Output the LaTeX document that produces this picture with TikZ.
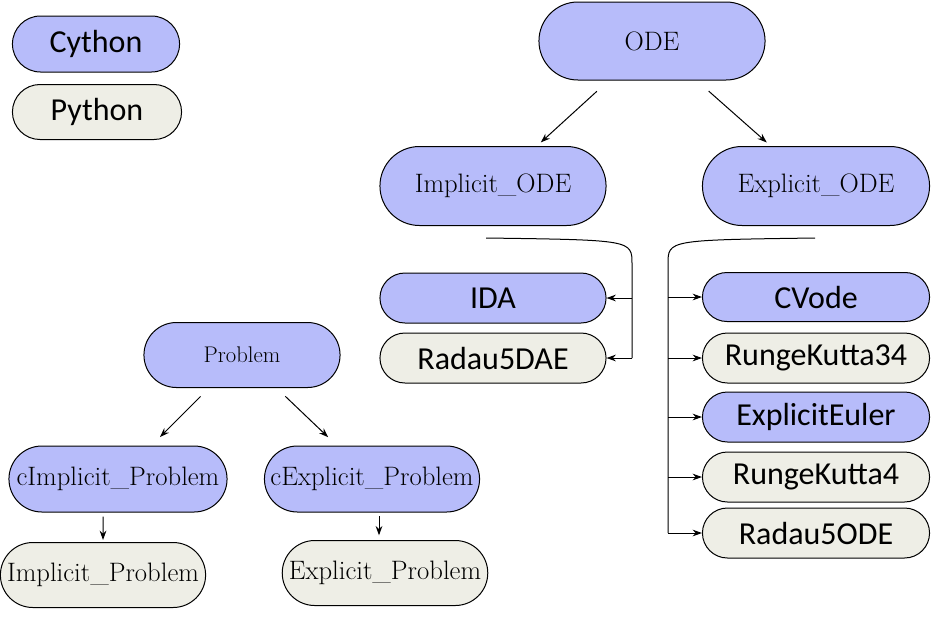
\documentclass[tikz,border=0pt]{standalone}
\usepackage{fontspec}
\newfontfamily\sansfam{Carlito}
\usetikzlibrary{shapes.misc,arrows.meta}
\definecolor{cyblue}{RGB}{183,188,250}
\definecolor{pygray}{RGB}{238,238,230}
\tikzset{every picture/.style={line width=0.75pt}}
\tikzset{
  box/.style={rounded rectangle,draw,minimum height=#1},
  cy/.style={fill=cyblue},
  py/.style={fill=pygray},
  ser/.style={font=\fontsize{20}{22}\selectfont},
  san/.style={font=\sansfam\fontsize{24}{26}\selectfont},
  arr/.style={-{Stealth[length=7pt,width=5pt]}}
}
\begin{document}
\begin{tikzpicture}[x=0.75pt,y=0.75pt,yscale=-1,xscale=1]
\useasboundingbox (0,0) rectangle (941,618);

% legend
\node (cython) [box=56*0.75pt,cy,san,minimum width=176*0.75pt] at (96,44) {Cython};
\node (python) [box=55*0.75pt,py,san,minimum width=178*0.75pt] at (97,112) {Python};

% ODE tree
\node (ode) [box=78*0.75pt,cy,ser,minimum width=235*0.75pt] at (652,41) {ODE};
\node (iode) [box=79*0.75pt,cy,ser,minimum width=235*0.75pt] at (493,186) {Implicit\_ODE};
\node (eode) [box=79*0.75pt,cy,ser,minimum width=236*0.75pt] at (816,186) {Explicit\_ODE};
\draw [arr,shorten <=12pt,shorten >=4pt] (ode) -- (iode);
\draw [arr,shorten <=12pt,shorten >=4pt] (ode) -- (eode);

\node (ida) [box=50*0.75pt,cy,san,minimum width=235*0.75pt] at (493,298) {IDA};
\node (rdae) [box=50*0.75pt,py,san,minimum width=235*0.75pt] at (493,358) {Radau5DAE};

\node (cvode) [box=49*0.75pt,cy,san,minimum width=236*0.75pt] at (816,297) {CVode};
\node (rk34) [box=50*0.75pt,py,san,minimum width=236*0.75pt] at (816,358) {RungeKutta34};
\node (euler) [box=50*0.75pt,cy,san,minimum width=236*0.75pt] at (816,417) {ExplicitEuler};
\node (rk4) [box=50*0.75pt,py,san,minimum width=236*0.75pt] at (816,477) {RungeKutta4};
\node (r5ode) [box=50*0.75pt,py,san,minimum width=236*0.75pt] at (816,533) {Radau5ODE};

% brackets
\coordinate (ib) at (486,238);
\coordinate (ie) at (632,358);
\draw (ib) .. controls (632,240) .. (632,264) -- (ie);
\draw [arr] (ida.east -| ie) -- (ida.east);
\draw [arr] (ie) -- (rdae.east);

\coordinate (eb) at (815,238);
\coordinate (ee) at (668,533);
\draw (eb) .. controls (668,240) .. (668,264) -- (ee);
\foreach \n in {cvode,rk34,euler,rk4,r5ode}
  \draw [arr] (\n.west -| ee) -- (\n.west);

% Problem tree
\node (prob) [box=65*0.75pt,cy,font=\fontsize{17}{19}\selectfont,minimum width=205*0.75pt] at (242,355) {Problem};
\node (cip) [box=66*0.75pt,cy,ser,minimum width=227*0.75pt] at (118,479) {cImplicit\_Problem};
\node (cep) [box=66*0.75pt,cy,ser,minimum width=224*0.75pt] at (372,479) {cExplicit\_Problem};
\draw [arr,shorten <=9pt,shorten >=9pt] (prob) -- (cip);
\draw [arr,shorten <=9pt,shorten >=9pt] (prob) -- (cep);

\node (ip) [box=65*0.75pt,py,ser,minimum width=203*0.75pt] at (103,575) {Implicit\_Problem};
\node (ep) [box=65*0.75pt,py,ser,minimum width=204*0.75pt] at (385,573) {Explicit\_Problem};
\draw [arr,shorten <=3pt,shorten >=1.5pt] (cip.south -| ip) -- (ip);
\draw [arr,shorten <=3pt,shorten >=2pt] (379,512) -- (379,538);
\end{tikzpicture}
\end{document}
